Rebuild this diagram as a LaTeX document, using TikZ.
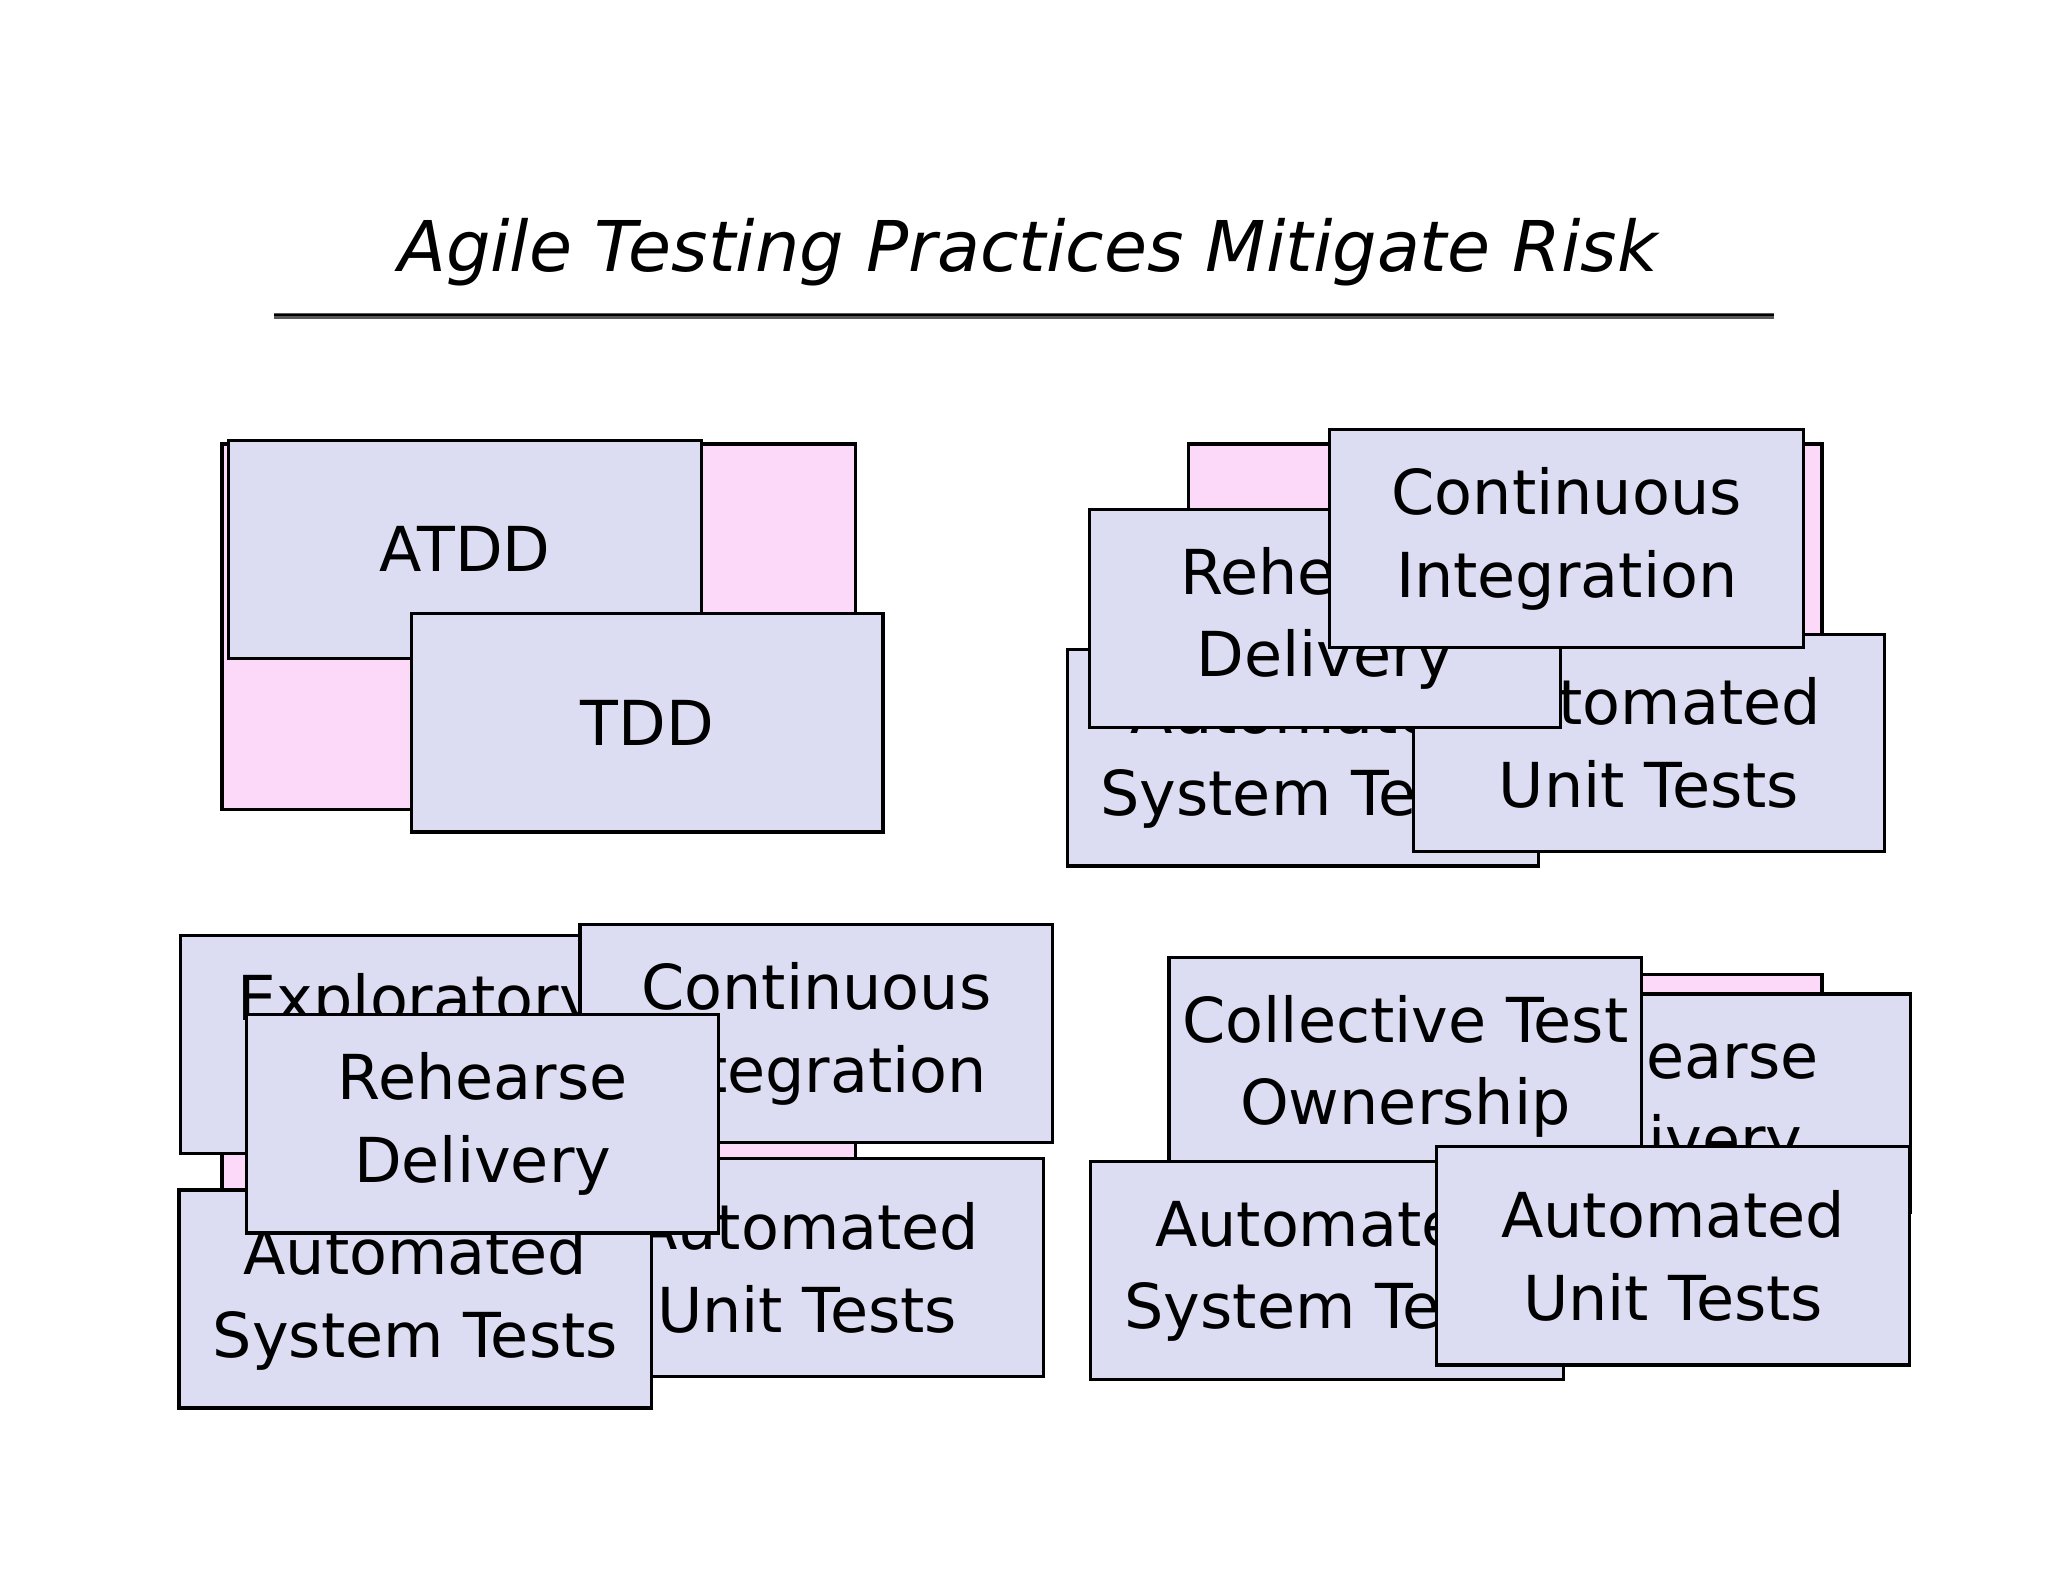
\documentclass[tikz,border=0pt]{standalone}
\usepackage{fontspec}
\setmainfont{DejaVu Sans}
\begin{document}
\begin{tikzpicture}[x=0.02cm,y=-0.02cm,
  lav/.style={draw=black,fill={rgb,255:red,220;green,220;blue,242},line width=1.4pt},
  pnk/.style={draw=black,fill={rgb,255:red,252;green,217;blue,248},line width=1.4pt},
  lbl/.style={align=center,font=\fontsize{27}{36}\selectfont}]
\useasboundingbox[fill=white] (0,0) rectangle (1568,1210);
\node[font=\fontsize{30.5}{36}\selectfont\itshape] (title) at (787,193) {Agile Testing Practices Mitigate Risk};
\draw[line width=2.5pt,gray!70!black] (210,242) -- (1358,242);
\draw[line width=0.8pt,black] (210,241) -- (1358,241);
% top-left
\draw[pnk] (170,340) rectangle (655,620);
\draw[lav] (175,337) rectangle (537,504) node[midway,lbl]{ATDD};
\draw[lav] (315,470) rectangle (676,637) node[midway,lbl]{TDD};
% top-right
\draw[pnk] (910,340) rectangle (1395,500);
\draw[lav] (817,497) rectangle (1178,663) node[midway,lbl]{Automated\\System Tests};
\draw[lav] (1082,486) rectangle (1443,652) node[midway,lbl]{Automated\\Unit Tests};
\draw[lav] (834,390) rectangle (1195,557) node[midway,lbl]{Rehearse\\Delivery};
\draw[lav] (1018,329) rectangle (1381,496) node[midway,lbl]{Continuous\\Integration};
% bottom-left
\draw[pnk] (170,740) rectangle (655,1000);
\draw[lav] (138,716) rectangle (500,883) node[midway,lbl]{Exploratory\\Testing};
\draw[lav] (444,708) rectangle (806,875) node[midway,lbl]{Continuous\\Integration};
\draw[lav] (437,887) rectangle (799,1054) node[midway,lbl]{Automated\\Unit Tests};
\draw[lav] (137,911) rectangle (499,1078) node[midway,lbl]{Automated\\System Tests};
\draw[lav] (189,777) rectangle (550,944) node[midway,lbl]{Rehearse\\Delivery};
% bottom-right
\draw[pnk] (1000,746) rectangle (1395,900);
\draw[lav] (1100,761) rectangle (1463,928) node[midway,lbl]{Rehearse\\Delivery};
\draw[lav] (895,733) rectangle (1257,900) node[midway,lbl]{Collective Test\\Ownership};
\draw[lav] (835,889) rectangle (1197,1056) node[midway,lbl]{Automated\\System Tests};
\draw[lav] (1100,878) rectangle (1462,1045) node[midway,lbl]{Automated\\Unit Tests};
\end{tikzpicture}
\end{document}
